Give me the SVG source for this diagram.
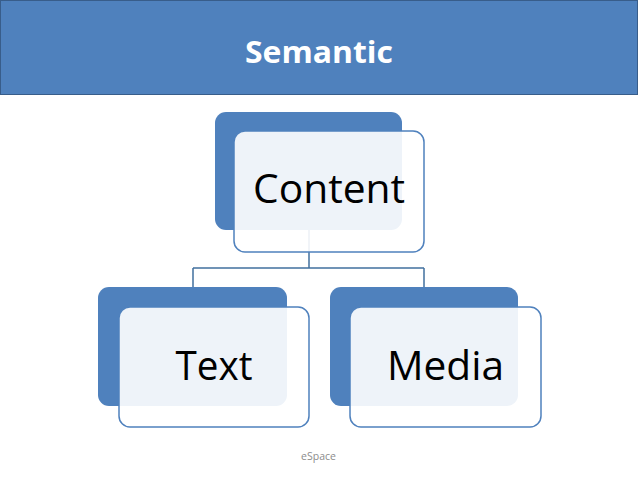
<svg xmlns="http://www.w3.org/2000/svg" width="638" height="478" viewBox="0 0 638 478">
<style>
.back{fill:#4f81bd}
.front{fill:#ffffff;fill-opacity:0.9;stroke:#4f81bd;stroke-width:1.5}
.lbl{font-family:"Open Sans","Liberation Sans",sans-serif;font-size:40px;fill:#000;text-anchor:middle}
.conn{fill:none;stroke:#41709f;stroke-width:1.5}
</style>
<rect width="638" height="478" fill="#ffffff"/>
<g id="header">
<rect x="0.5" y="0.5" width="637" height="94" fill="#4f81bd" stroke="#385d8a" stroke-width="1"/>
<text x="319" y="63" font-family="'Open Sans','Liberation Sans',sans-serif" font-weight="bold" font-size="31" fill="#ffffff" text-anchor="middle" textLength="148" lengthAdjust="spacingAndGlyphs">Semantic</text>
</g>
<g id="connectors">
<path class="conn" d="M309 230 V268 M193 268 H424 M193 268 V288 M424 268 V288"/>
</g>
<g id="node-content">
<rect class="back" x="215" y="112" width="187" height="118" rx="11"/>
<rect class="front" x="234" y="131" width="190" height="121" rx="11"/>
<text class="lbl" x="329" y="203" textLength="152" lengthAdjust="spacingAndGlyphs">Content</text>
</g>
<g id="node-text">
<rect class="back" x="98" y="287" width="189" height="119" rx="11"/>
<rect class="front" x="119" y="307" width="190" height="120" rx="11"/>
<text class="lbl" x="214" y="380" textLength="77" lengthAdjust="spacingAndGlyphs">Text</text>
</g>
<g id="node-media">
<rect class="back" x="330" y="287" width="188" height="119" rx="11"/>
<rect class="front" x="350" y="307" width="191" height="120" rx="11"/>
<text class="lbl" x="445.5" y="380" textLength="117" lengthAdjust="spacingAndGlyphs">Media</text>
</g>
<text x="318.5" y="460" font-family="'Open Sans','Liberation Sans',sans-serif" font-size="10.5" fill="#8c8c8c" text-anchor="middle">eSpace</text>
</svg>
